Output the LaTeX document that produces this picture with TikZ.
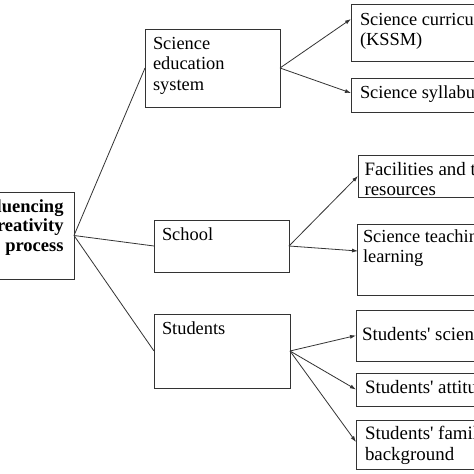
\documentclass[tikz,border=0pt]{standalone}
\usepackage{fontspec}
\setmainfont{Liberation Serif}
\usetikzlibrary{arrows.meta}
\tikzset{
  box/.style={draw=black!80, line width=0.9pt, inner sep=0pt, outer sep=0pt},
  txt/.style={inner sep=0pt, outer sep=0pt, align=left, anchor=north west, font=\fontsize{18.4}{20.5}\selectfont},
  txtb/.style={txt, font=\fontsize{18.4}{20}\selectfont},
  txtc/.style={txt, font=\fontsize{18.9}{20}\selectfont},
  txtd/.style={txt, font=\fontsize{18.9}{21.5}\selectfont},
  boldtxt/.style={inner sep=0pt, outer sep=0pt, align=right, anchor=north east, font=\fontsize{18.5}{19.5}\selectfont\bfseries},
  link/.style={draw=black!80, line width=0.8pt},
  arr/.style={link, -{Latex[length=6pt,width=4pt]}}
}
\begin{document}
\begin{tikzpicture}[x=1pt,y=-1pt]
\clip (0,0) rectangle (474,474);
\fill[white] (0,0) rectangle (474,474);
% boxes
\node[box, minimum width=94pt, minimum height=87pt] (root) at (27,235.5) {};
\node[box, minimum width=135pt, minimum height=78pt] (ses) at (212.5,68) {};
\node[box, minimum width=135pt, minimum height=52pt] (school) at (221.5,246) {};
\node[box, minimum width=136pt, minimum height=74pt] (stud) at (222,351) {};
\node[box, minimum width=209pt, minimum height=57pt] (kssm) at (455.5,32.5) {};
\node[box, minimum width=209pt, minimum height=34pt] (syll) at (455.5,95) {};
\node[box, minimum width=202pt, minimum height=42pt] (fac) at (459,176) {};
\node[box, minimum width=203pt, minimum height=71pt] (teach) at (458.5,259.5) {};
\node[box, minimum width=204pt, minimum height=51pt] (sci) at (458,335.5) {};
\node[box, minimum width=204pt, minimum height=33pt] (att) at (458,389.5) {};
\node[box, minimum width=204pt, minimum height=49pt] (fam) at (458,444.5) {};
% texts
\node[boldtxt] (rootT) at (63.5,198.35) {\strut influencing\\creativity\\process};
\node[txt] (sesT) at (153,34.65) {\strut Science\\education\\system};
\node[txt] (schoolT) at (162,225.65) {\strut School};
\node[txt] (studT) at (162,319.65) {\strut Students};
\node[txtb] (kssmT) at (360,11) {\strut Science curriculum\\(KSSM)};
\node[txtb] (syllT) at (360,84) {\strut Science syllabus};
\node[txtc] (facT) at (364.5,161) {\strut Facilities and teaching\\resources};
\node[txtb] (teachT) at (363,228) {\strut Science teaching and\\learning};
\node[txtc] (sciT) at (362,326) {\strut Students\textquotesingle{} science};
\node[txtc] (attT) at (365,379) {\strut Students\textquotesingle{} attitude};
\node[txtd] (famT) at (365,424) {\strut Students\textquotesingle{} family\\background};
% arrow end points
\coordinate (kssmIn) at (351,19);
\coordinate (syllIn) at (351,93);
\coordinate (teachIn) at (358,251);
\coordinate (famIn) at (356,442);
% connectors
\draw[link] (root.east) -- (ses.west);
\draw[link] (root.east) -- (school.west);
\draw[link] (root.east) -- (stud.west);
\draw[arr] (ses.east) -- (kssmIn);
\draw[arr] (ses.east) -- (syllIn);
\draw[arr] (school.east) -- (fac.west);
\draw[arr] (school.east) -- (teachIn);
\draw[arr] (stud.east) -- (sci.west);
\draw[arr] (stud.east) -- (att.west);
\draw[arr] (stud.east) -- (famIn);
\end{tikzpicture}
\end{document}
